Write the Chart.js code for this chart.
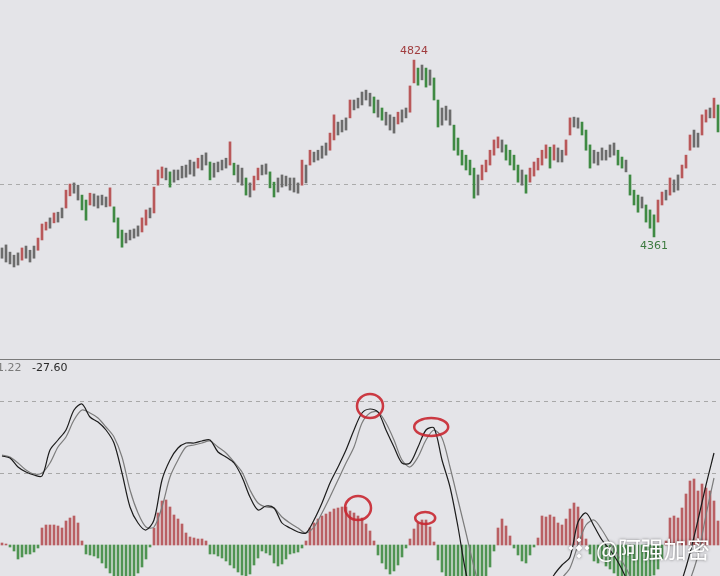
<!DOCTYPE html>
<html>
<head>
<meta charset="utf-8">
<script src="https://cdn.jsdelivr.net/npm/chart.js@4.4.1/dist/chart.umd.min.js"></script>
<style>
  html, body { margin: 0; padding: 0; background: #e4e4e8; }
  #wrap { position: relative; width: 720px; height: 576px; overflow: hidden; }
  #priceBox { position: absolute; left: 0; top: 0; width: 720px; height: 359px; }
  #sep { position: absolute; left: 0; top: 359px; width: 720px; height: 1px; background: #7a7a7a; }
  #macdBox { position: absolute; left: 0; top: 360px; width: 720px; height: 216px; }
</style>
</head>
<body>
<div id="wrap">
  <div id="priceBox"><canvas id="priceChart"></canvas></div>
  <div id="sep"></div>
  <div id="macdBox"><canvas id="macdChart"></canvas></div>
</div>
<script>
// price bars, one per session
const priceHigh = [
  4328, 4336, 4317, 4309, 4315, 4328, 4333, 4322, 4333, 4354,
  4391, 4396, 4407, 4420, 4422, 4433, 4480, 4496, 4499, 4493,
  4467, 4454, 4472, 4470, 4465, 4467, 4462, 4486, 4436, 4407,
  4375, 4367, 4375, 4378, 4386, 4407, 4428, 4433, 4488, 4533,
  4541, 4538, 4528, 4533, 4533, 4543, 4546, 4559, 4554, 4564,
  4572, 4578, 4554, 4551, 4554, 4559, 4564, 4607, 4551, 4546,
  4538, 4512, 4499, 4517, 4538, 4546, 4549, 4528, 4501, 4512,
  4520, 4517, 4512, 4512, 4499, 4559, 4546, 4585, 4580, 4585,
  4596, 4604, 4630, 4678, 4659, 4664, 4670, 4717, 4717, 4722,
  4738, 4743, 4735, 4725, 4717, 4696, 4685, 4678, 4672, 4685,
  4691, 4696, 4754, 4822, 4801, 4809, 4801, 4796, 4775, 4717,
  4696, 4701, 4691, 4651, 4617, 4585, 4572, 4559, 4538, 4520,
  4546, 4559, 4585, 4612, 4620, 4612, 4599, 4585, 4572, 4546,
  4533, 4520, 4538, 4554, 4564, 4585, 4599, 4593, 4599, 4591,
  4585, 4612, 4670, 4672, 4670, 4659, 4638, 4599, 4585, 4580,
  4591, 4585, 4599, 4604, 4585, 4567, 4559, 4520, 4480, 4467,
  4462, 4441, 4428, 4415, 4454, 4475, 4480, 4512, 4507, 4520,
  4546, 4572, 4625, 4638, 4630, 4678, 4691, 4696, 4722, 4704
];
const priceLow = [
  4301, 4291, 4286, 4278, 4283, 4296, 4301, 4291, 4301, 4322,
  4349, 4375, 4380, 4394, 4396, 4407, 4433, 4465, 4472, 4454,
  4428, 4401, 4441, 4438, 4433, 4441, 4436, 4438, 4396, 4354,
  4330, 4341, 4349, 4354, 4359, 4370, 4388, 4407, 4420, 4493,
  4512, 4507, 4488, 4501, 4507, 4512, 4514, 4522, 4517, 4538,
  4533, 4546, 4507, 4514, 4528, 4533, 4538, 4546, 4520, 4501,
  4493, 4467, 4462, 4480, 4507, 4520, 4522, 4486, 4462, 4475,
  4488, 4491, 4480, 4475, 4472, 4493, 4499, 4546, 4554, 4559,
  4564, 4572, 4585, 4612, 4625, 4633, 4638, 4670, 4691, 4696,
  4704, 4717, 4701, 4683, 4672, 4664, 4651, 4638, 4630, 4654,
  4659, 4670, 4685, 4762, 4756, 4770, 4751, 4756, 4717, 4646,
  4651, 4664, 4651, 4585, 4572, 4546, 4533, 4520, 4459, 4467,
  4507, 4528, 4546, 4572, 4591, 4580, 4559, 4546, 4533, 4501,
  4493, 4472, 4501, 4517, 4533, 4546, 4564, 4538, 4559, 4554,
  4554, 4572, 4625, 4646, 4643, 4625, 4585, 4538, 4551, 4546,
  4559, 4559, 4567, 4572, 4546, 4538, 4528, 4467, 4441, 4422,
  4433, 4396, 4380, 4357, 4396, 4441, 4454, 4467, 4475, 4480,
  4512, 4538, 4585, 4593, 4593, 4625, 4659, 4670, 4670, 4633
];

// MACD lines, read every second bar
const difLine = [
  44.5, 43.5, 39, 36.5, 35, 34.5, 47.5, 52.5, 57.5, 67.5,
  70.5, 64, 61.5, 57.5, 51, 36, 19, 11, 7.5, 12.5,
  32.5, 42.5, 48.5, 51, 51, 52, 52.5, 46.5, 44, 41,
  34, 24, 17.5, 19.5, 18.5, 11, 8.5, 6.5, 6, 12.5,
  21, 31, 39, 47.5, 57.5, 66, 68, 66.5, 57.5, 49,
  41, 41, 49, 57.5, 58.5, 42.5, 29, 9, -14, -27.5,
  -37.5, -42.5, -45, -45, -42.5, -37.5, -32.5, -27.5, -22.5, -15,
  -10, -6, 11.5, 16, 9.5, 2.5, -2.5, -8.5, -16.5, -27.5,
  -35, -40, -40, -35, -27.5, -17.5, -4, 12.5, 30, 46
];
const deaLine = [
  45, 44, 41, 37.5, 35.5, 36, 41, 49, 54, 62.5,
  67.5, 66, 63.5, 59, 54, 44, 27.5, 16, 9, 9,
  19, 34, 42.5, 49, 50, 51, 52, 49, 46, 41.5,
  36.5, 27.5, 21, 19, 18.5, 14, 11, 8.5, 6, 9,
  16, 24, 32.5, 41, 49, 61, 66, 66.5, 61, 52.5,
  42.5, 39, 44, 52.5, 57.5, 53.5, 39, 22.5, 6, -11,
  -25, -35, -41.5, -45, -45, -42.5, -38.5, -33.5, -28.5, -22.5,
  -16.5, -11.5, 0, 10, 12.5, 7.5, 1, -5, -11.5, -20,
  -30, -36.5, -40, -38.5, -33.5, -26.5, -17.5, -5, 15, 33.5
];
const macdHist = [
  1, 0.5, -1, -3, -7, -6, -4.5, -4.5, -3.5, -1.5,
  8.5, 10, 10, 10, 9.5, 8.5, 12, 13.5, 14.5, 11,
  2, -4.5, -5, -5.5, -6.5, -9, -11.5, -14, -15.5, -16.5,
  -17.5, -18, -18, -17, -14, -11, -7, -1, 8.5, 16,
  22, 22.5, 19, 15, 13, 10.5, 6, 4, 3.5, 3,
  3, 2, -4.5, -4.5, -5.5, -6.5, -8, -10, -11.5, -13.5,
  -15, -15.5, -14.5, -10, -6.5, -3, -4, -5, -9, -10.5,
  -9.5, -7, -4.5, -4, -3.5, -1.5, 2, 8.5, 11, 13,
  14.5, 15.5, 16.5, 18, 18.5, 19, 19, 17, 16, 14.5,
  13.5, 10.5, 7, 2, -5, -9, -12, -14.5, -13, -10,
  -6, -1.5, 3, 8, 11, 12.5, 12.5, 9, 1.5, -7.5,
  -13.5, -17.5, -20, -22, -23, -23.5, -23, -22, -21, -20,
  -19, -16, -11, -3, 8.5, 13, 9.5, 4.5, -1.5, -5,
  -8, -9, -5, -1, 3.5, 14.5, 14, 15, 14, 11,
  10, 13, 18, 21, 19, 13, 3, -4.5, -8, -9,
  -7, -10.5, -12, -14, -16, -18, -20, -21, -21, -20,
  -19, -18, -17, -15, -12, -7, 2, 13.5, 14.5, 13.5,
  18.5, 25.5, 32, 33, 27, 30.5, 28.5, 27, 22, 12
];

const peakMark = { text: '4824', index: 103 };
const troughMark = { text: '4361', index: 163 };
const refPrice = 4496;
const macdLevels = [36, 72];
const readout = ['1.22', '-27.60'];
const watermark = '@阿强加密';
// circled spots: bar index and MACD value
const ringSpots = [
  { index: 92, value: 69.5, rx: 13, ry: 12 },
  { index: 107.3, value: 59, rx: 17, ry: 9 },
  { index: 89, value: 18.5, rx: 13, ry: 12 },
  { index: 105.8, value: 13.5, rx: 10, ry: 6 }
];

const RED = '#b9585a';
const GREEN = '#3f8a43';
const GRAY = '#6c6c6c';
const HIST_RED = '#b95f63';
const HIST_GREEN = '#4f9452';

const labels = priceHigh.map((_, i) => i);

const barColors = priceHigh.map((hi, i) => {
  if (i === 0) return GRAY;
  const mid = (hi + priceLow[i]) / 2;
  const prev = (priceHigh[i - 1] + priceLow[i - 1]) / 2;
  if (mid - prev > 12) return RED;
  if (prev - mid > 12) return GREEN;
  return GRAY;
});

// lines are read every 2nd bar, put them on the bar slots
const spread = (arr) => {
  const out = new Array(labels.length).fill(null);
  arr.forEach((v, j) => { out[j * 2] = v; });
  return out;
};

const pricePlugin = {
  id: 'priceExtras',
  beforeDatasetsDraw(chart) {
    const { ctx, chartArea, scales } = chart;
    const y = Math.round(scales.y.getPixelForValue(refPrice)) + 0.5;
    ctx.save();
    ctx.strokeStyle = '#ababab';
    ctx.lineWidth = 1;
    ctx.setLineDash([4, 4]);
    ctx.beginPath();
    ctx.moveTo(chartArea.left, y);
    ctx.lineTo(chartArea.right, y);
    ctx.stroke();
    ctx.restore();
  },
  afterDatasetsDraw(chart) {
    const { ctx, scales } = chart;
    ctx.save();
    ctx.font = '11px "DejaVu Sans", sans-serif';
    ctx.textAlign = 'center';
    ctx.textBaseline = 'middle';
    ctx.fillStyle = '#a03c3e';
    ctx.fillText(peakMark.text, scales.x.getPixelForValue(peakMark.index),
      scales.y.getPixelForValue(priceHigh[peakMark.index]) - 9);
    ctx.fillStyle = '#3d7a40';
    ctx.fillText(troughMark.text, scales.x.getPixelForValue(troughMark.index),
      scales.y.getPixelForValue(priceLow[troughMark.index]) + 9);
    ctx.restore();
  }
};

const macdPlugin = {
  id: 'macdExtras',
  beforeDatasetsDraw(chart) {
    const { ctx, chartArea, scales } = chart;
    ctx.save();
    ctx.strokeStyle = '#a8a8a8';
    ctx.lineWidth = 1;
    ctx.setLineDash([4, 4]);
    macdLevels.forEach((lv) => {
      const y = Math.round(scales.y.getPixelForValue(lv)) + 0.5;
      ctx.beginPath();
      ctx.moveTo(chartArea.left, y);
      ctx.lineTo(chartArea.right, y);
      ctx.stroke();
    });
    ctx.restore();
  },
  afterDatasetsDraw(chart) {
    const { ctx, scales } = chart;
    const step = scales.x.getPixelForValue(1) - scales.x.getPixelForValue(0);
    ctx.save();
    // red rings
    ctx.strokeStyle = 'rgba(200, 38, 48, 0.9)';
    ctx.lineWidth = 2.5;
    ringSpots.forEach((r) => {
      const cx = scales.x.getPixelForValue(0) + r.index * step;
      const cy = scales.y.getPixelForValue(r.value);
      ctx.beginPath();
      ctx.ellipse(cx, cy, r.rx, r.ry, 0, 0, Math.PI * 2);
      ctx.stroke();
    });

    // readout values
    ctx.font = '11px "DejaVu Sans", sans-serif';
    ctx.textBaseline = 'middle';
    ctx.textAlign = 'left';
    ctx.fillStyle = '#7a7a7a';
    ctx.fillText(readout[0], -3, 8);
    ctx.fillStyle = '#2a2a2a';
    ctx.fillText(readout[1], 32, 8);

    // watermark
    const wy = 188;
    ctx.shadowColor = 'rgba(0, 0, 0, 0.5)';
    ctx.shadowBlur = 3;
    ctx.fillStyle = '#ffffff';
    const dia = (x, y, s) => {
      ctx.beginPath();
      ctx.moveTo(x, y - s);
      ctx.lineTo(x + s, y);
      ctx.lineTo(x, y + s);
      ctx.lineTo(x - s, y);
      ctx.closePath();
      ctx.fill();
    };
    const lx = 579;
    dia(lx, wy, 3.5);
    dia(lx, wy - 8, 2.5);
    dia(lx, wy + 8, 2.5);
    dia(lx - 8, wy, 2.5);
    dia(lx + 8, wy, 2.5);
    ctx.font = '23px "Noto Sans CJK SC", sans-serif';
    ctx.fillText(watermark, 596, wy + 1);
    ctx.restore();
  }
};

new Chart(document.getElementById('priceChart'), {
  type: 'bar',
  data: {
    labels: labels,
    datasets: [{
      data: priceLow.map((lo, i) => [lo, priceHigh[i]]),
      backgroundColor: barColors,
      borderWidth: 0,
      borderSkipped: false,
      barThickness: 2
    }]
  },
  options: {
    responsive: true,
    maintainAspectRatio: false,
    animation: false,
    layout: { padding: 0 },
    plugins: { legend: { display: false }, tooltip: { enabled: false } },
    scales: {
      x: { display: false },
      y: { display: false, min: 4036, max: 4980 }
    }
  },
  plugins: [pricePlugin]
});

new Chart(document.getElementById('macdChart'), {
  type: 'bar',
  data: {
    labels: labels,
    datasets: [
      {
        type: 'bar',
        data: macdHist,
        backgroundColor: macdHist.map((v) => (v >= 0 ? HIST_RED : HIST_GREEN)),
        borderWidth: 0,
        barThickness: 2,
        order: 3
      },
      {
        type: 'line',
        data: spread(deaLine),
        borderColor: '#7c7c7c',
        borderWidth: 1.2,
        pointRadius: 0,
        spanGaps: true,
        tension: 0.3,
        order: 2
      },
      {
        type: 'line',
        data: spread(difLine),
        borderColor: '#1c1c1c',
        borderWidth: 1.2,
        pointRadius: 0,
        spanGaps: true,
        tension: 0.3,
        order: 1
      }
    ]
  },
  options: {
    responsive: true,
    maintainAspectRatio: false,
    animation: false,
    layout: { padding: 0 },
    plugins: { legend: { display: false }, tooltip: { enabled: false } },
    scales: {
      x: { display: false },
      y: { display: false, min: -15.5, max: 92.5 }
    }
  },
  plugins: [macdPlugin]
});
</script>
</body>
</html>
